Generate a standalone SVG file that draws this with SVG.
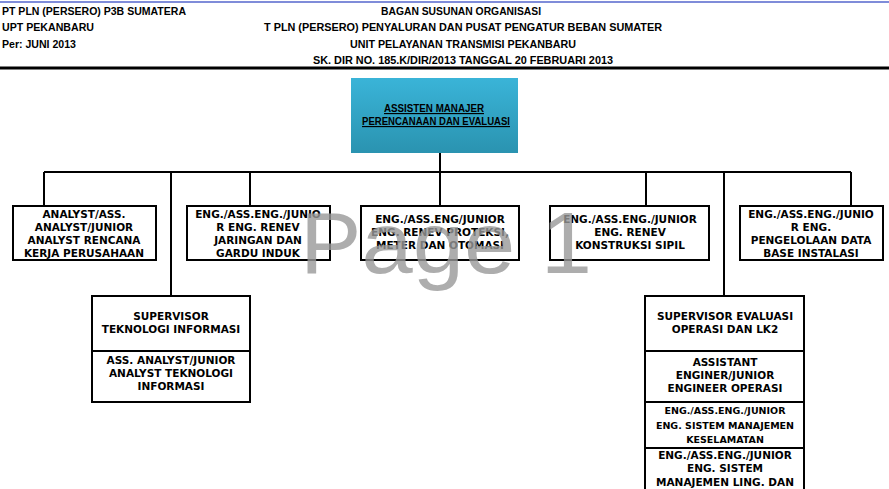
<svg xmlns="http://www.w3.org/2000/svg" width="889" height="489" viewBox="0 0 889 489">
<style>
.h{font-family:"Liberation Sans",Arial,sans-serif;font-weight:bold;font-size:11.5px;fill:#000}
.b{fill:#fff;stroke:#000;stroke-width:2}
.t{font-family:"DejaVu Sans",Verdana,sans-serif;font-weight:bold;font-size:10.5px;fill:#000;text-anchor:middle}
.s{font-size:9.5px}
.c{stroke:#000;stroke-width:2;fill:none}
</style>
<defs><linearGradient id="g" x1="0" y1="0" x2="0" y2="1"><stop offset="0" stop-color="#3ab4d8"/><stop offset="1" stop-color="#2a93b0"/></linearGradient></defs>
<rect width="889" height="489" fill="#fff"/>
<line x1="0" y1="2" x2="889" y2="2" stroke="#5566cc" stroke-width="1.5"/>
<line x1="0" y1="68" x2="889" y2="68" stroke="#000" stroke-width="3"/>
<g id="header">
<text class="h" x="2" y="15" textLength="184" lengthAdjust="spacingAndGlyphs">PT PLN (PERSERO) P3B SUMATERA</text>
<text class="h" x="2" y="31" textLength="92" lengthAdjust="spacingAndGlyphs">UPT PEKANBARU</text>
<text class="h" x="2" y="48" textLength="74" lengthAdjust="spacingAndGlyphs">Per: JUNI 2013</text>
<text class="h" x="381" y="15" textLength="160" lengthAdjust="spacingAndGlyphs">BAGAN SUSUNAN ORGANISASI</text>
<text class="h" x="264" y="31" textLength="398" lengthAdjust="spacingAndGlyphs">T PLN (PERSERO) PENYALURAN DAN PUSAT PENGATUR BEBAN SUMATER</text>
<text class="h" x="350" y="48" textLength="226" lengthAdjust="spacingAndGlyphs">UNIT PELAYANAN TRANSMISI PEKANBARU</text>
<text class="h" x="313" y="64" textLength="300" lengthAdjust="spacingAndGlyphs">SK. DIR NO. 185.K/DIR/2013 TANGGAL 20 FEBRUARI 2013</text>
</g>
<g id="connectors">
<path class="c" d="M440 153V172M44 172H851M44 172V206M171 172V296M250 172V206M440 172V206M646 172V206M724 172V296M851 172V206"/>
</g>
<g id="top">
<rect x="351" y="78" width="167" height="75" fill="url(#g)"/>
<text class="h" x="384" y="112" font-size="10" text-decoration="underline" textLength="100" lengthAdjust="spacingAndGlyphs">ASSISTEN MANAJER</text>
<text class="h" x="362" y="125" font-size="10" text-decoration="underline" textLength="148" lengthAdjust="spacingAndGlyphs">PERENCANAAN DAN EVALUASI</text>
</g>
<g id="n1"><rect class="b" x="13" y="206" width="143" height="54"/>
<text class="t" x="84" y="218">ANALYST/ASS.</text><text class="t" x="84" y="231">ANALYST/JUNIOR</text><text class="t" x="84" y="244">ANALYST RENCANA</text><text class="t" x="84" y="257">KERJA PERUSAHAAN</text></g>
<g id="n2"><rect class="b" x="187" y="206" width="143" height="54"/>
<text class="t" x="258" y="218">ENG./ASS.ENG./JUNIO</text><text class="t" x="258" y="231">R ENG. RENEV</text><text class="t" x="258" y="244">JARINGAN DAN</text><text class="t" x="258" y="257">GARDU INDUK</text></g>
<g id="n3"><rect class="b" x="361" y="206" width="158" height="54"/>
<text class="t" x="440" y="223">ENG./ASS.ENG/JUNIOR</text><text class="t" x="440" y="236">ENG. RENEV PROTEKSI,</text><text class="t" x="440" y="249">METER DAN OTOMASI</text></g>
<g id="n4"><rect class="b" x="550" y="206" width="159" height="54"/>
<text class="t" x="630" y="223">ENG./ASS.ENG./JUNIOR</text><text class="t" x="630" y="236">ENG. RENEV</text><text class="t" x="630" y="249">KONSTRUKSI SIPIL</text></g>
<g id="n5"><rect class="b" x="740" y="206" width="143" height="54"/>
<text class="t" x="811" y="218">ENG./ASS.ENG./JUNIO</text><text class="t" x="811" y="231">R ENG.</text><text class="t" x="811" y="244">PENGELOLAAN DATA</text><text class="t" x="811" y="257">BASE INSTALASI</text></g>
<g id="n6"><rect class="b" x="92" y="296" width="158" height="55"/>
<text class="t" x="171" y="320">SUPERVISOR</text><text class="t" x="171" y="333">TEKNOLOGI INFORMASI</text></g>
<g id="n7"><rect class="b" x="92" y="351" width="158" height="51"/>
<text class="t" x="171" y="364">ASS. ANALYST/JUNIOR</text><text class="t" x="171" y="377">ANALYST TEKNOLOGI</text><text class="t" x="171" y="390">INFORMASI</text></g>
<g id="n8"><rect class="b" x="645" y="296" width="159" height="55"/>
<text class="t" x="725" y="320">SUPERVISOR EVALUASI</text><text class="t" x="725" y="333">OPERASI DAN LK2</text></g>
<g id="n9"><rect class="b" x="645" y="351" width="159" height="51"/>
<text class="t" x="725" y="366">ASSISTANT</text><text class="t" x="725" y="379">ENGINER/JUNIOR</text><text class="t" x="725" y="392">ENGINEER OPERASI</text></g>
<g id="n10"><rect class="b" x="645" y="402" width="159" height="46"/>
<text class="t s" x="725" y="414">ENG./ASS.ENG./JUNIOR</text><text class="t s" x="725" y="429">ENG. SISTEM MANAJEMEN</text><text class="t s" x="725" y="443">KESELAMATAN</text></g>
<g id="n11"><rect class="b" x="645" y="448" width="159" height="50"/>
<text class="t" x="725" y="459">ENG./ASS.ENG./JUNIOR</text><text class="t" x="725" y="472">ENG. SISTEM</text><text class="t" x="725" y="486">MANAJEMEN LING. DAN</text></g>
<text x="300" y="273" font-family="Liberation Sans,Arial,sans-serif" font-size="88" fill="#999" fill-opacity="0.8" textLength="292" lengthAdjust="spacingAndGlyphs">Page 1</text>
</svg>
